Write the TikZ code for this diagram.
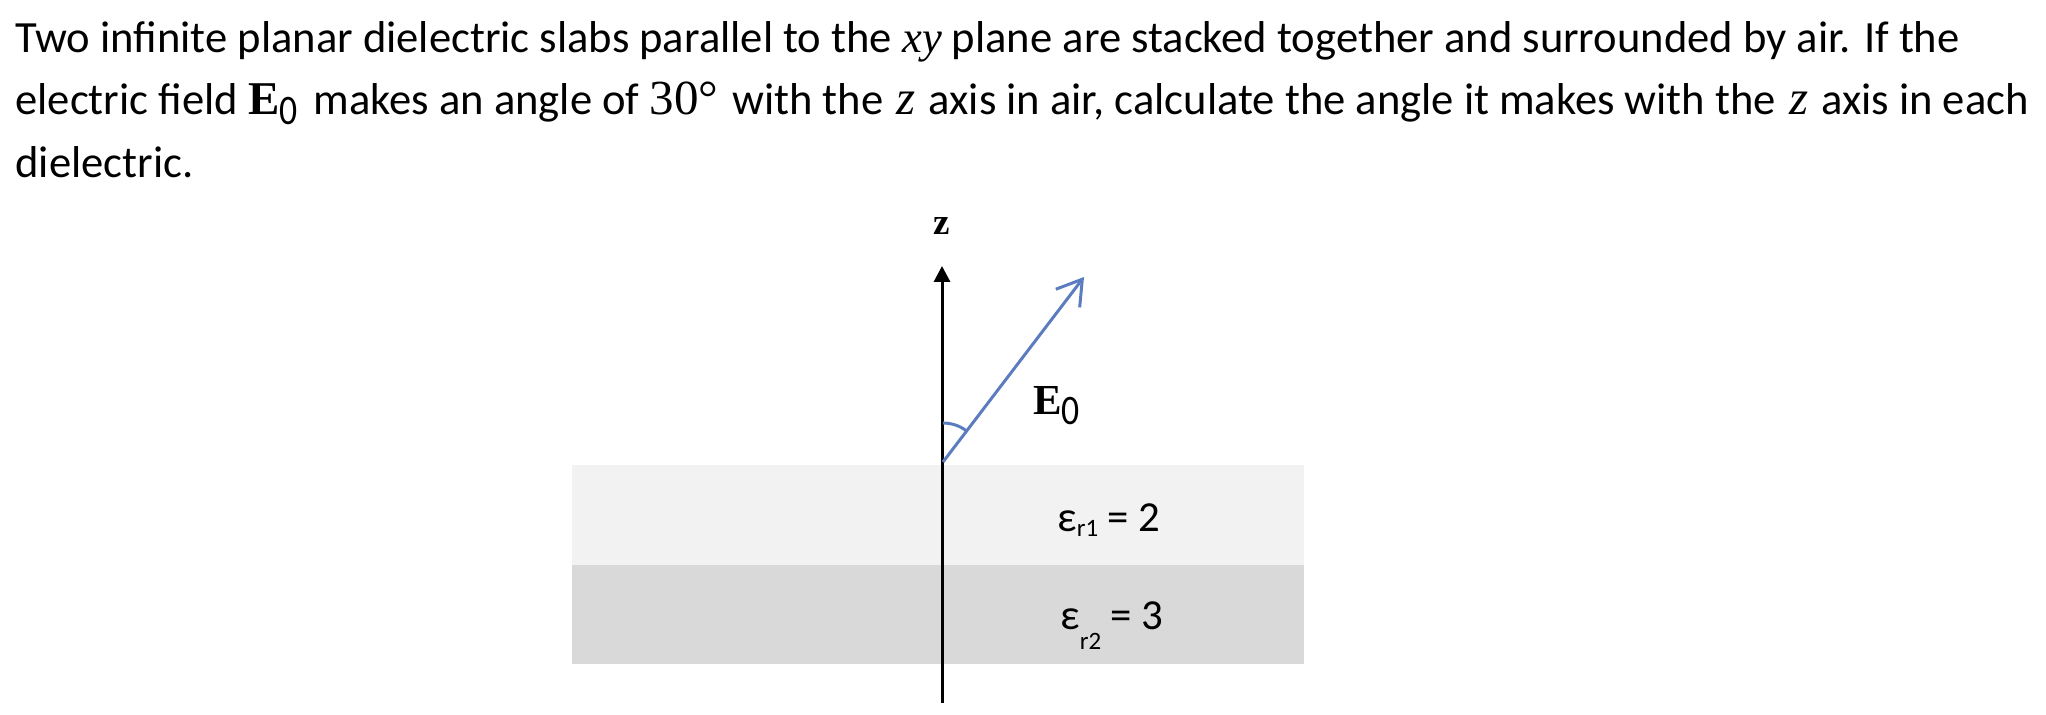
\documentclass[tikz,border=0pt]{standalone}
\usepackage{fontspec}
\setmainfont{Carlito}
\newfontfamily\serif{Liberation Serif}
\usetikzlibrary{arrows.meta}
\definecolor{slabA}{HTML}{F2F2F2}
\definecolor{slabB}{HTML}{D9D9D9}
\definecolor{fieldblue}{HTML}{5B7DBF}
\newcommand{\Ezero}[2]{{\serif\bfseries E}\raisebox{-5pt}{\fontsize{#1}{#1}\selectfont\scalebox{0.85}[1]{0}}}
\newcommand{\mvar}[1]{\hspace{1.5pt}{\fontsize{24.5}{26}\selectfont\serif\itshape #1}\hspace{1.5pt}}
\begin{document}
\begin{tikzpicture}[x=0.5pt,y=0.5pt,
  txt/.style={inner sep=0, anchor=base west, font=\fontsize{22.3}{26}\selectfont},
  lab/.style={inner sep=0, anchor=base west, font=\fontsize{21.4}{26}\selectfont},
  axisline/.style={line width=1.5pt, black, -{Triangle[width=8pt,length=8pt]}},
  fieldline/.style={line width=1.5pt, fieldblue, -{Straight Barb[length=12pt,width=15pt]}},
  anglearc/.style={line width=1.5pt, fieldblue}]
\useasboundingbox (0,0) rectangle (2046,715);
% problem text
\node[txt] (l1) at (15,662) {Two infinite planar dielectric slabs parallel to the {\serif\itshape xy} plane are stacked together and surrounded by air. If the};
\node[txt] (l2) at (15,600) {electric field {\fontsize{23.5}{26}\selectfont\Ezero{21}{}}\hspace{3pt} makes an angle of {\fontsize{24.5}{26}\selectfont\serif 30°}\hspace{2pt} with the \mvar{z} axis in air, calculate the angle it makes with the \mvar{z} axis in each};
\node[txt] (l3) at (15,537) {dielectric.};
% slabs
\fill[slabA] (572,150) rectangle (1304,250);
\fill[slabB] (572,51) rectangle (1304,150);
% axis
\coordinate (zb) at (942,12);
\coordinate (zt) at (942,449);
\draw[axisline] (zb) -- (zt);
\node[inner sep=0, font=\fontsize{18.5}{20}\selectfont\serif\bfseries] (zlab) at (942,489) {z};
% field
\coordinate (o) at (943,253);
\coordinate (tip) at (1084,438);
\draw[fieldline] (o) -- (tip);
\draw[anglearc] ([shift={(90:39)}]o) arc[start angle=90, end angle=52.7, radius=39];
\node[lab] (elab) at (1033,300) {\Ezero{21}{}};
% permittivities
\node[lab] (e1) at (1057,183) {ε\raisebox{-2.5pt}{\fontsize{12.5}{13}\selectfont r1} = 2};
\node[lab] (e2) at (1060,85) {ε\raisebox{-10pt}{\fontsize{12.5}{13}\selectfont r2} = 3};
\end{tikzpicture}
\end{document}
